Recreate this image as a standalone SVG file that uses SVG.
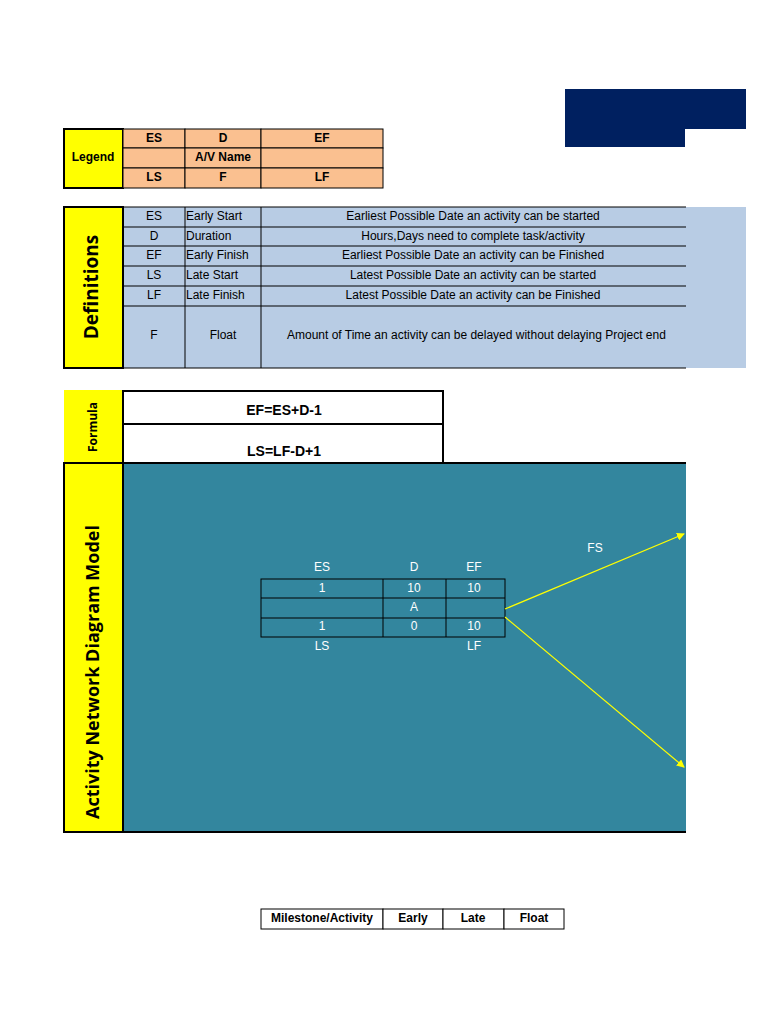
<svg xmlns="http://www.w3.org/2000/svg" width="768" height="1024" viewBox="0 0 768 1024">
<style>
text{font-family:"Liberation Sans Narrow","Liberation Sans",Arial,sans-serif;font-size:12px;text-anchor:middle;dominant-baseline:middle}
.b{font-weight:bold}
.cell{stroke:#000;stroke-width:1}
.side{font-family:"Open Sans","DejaVu Sans",sans-serif;font-weight:bold;font-size:19px}
.f{font-size:14px;font-weight:bold}
</style>
<defs><marker id="ah" markerWidth="8" markerHeight="8" refX="7" refY="4" orient="auto" markerUnits="userSpaceOnUse"><path d="M0,0L8,4L0,8z" fill="#ffff00"/></marker></defs>
<rect width="768" height="1024" fill="#fff"/>
<g id="navy"><rect x="565" y="89" width="181" height="40" fill="#002060"/><rect x="565" y="128" width="120" height="19" fill="#002060"/></g>
<g id="legend">
<rect x="64" y="129" width="59" height="59" fill="#ffff00" stroke="#000" stroke-width="2"/>
<text x="93" y="158" class="b">Legend</text>
<g fill="#fac090" class="cell">
<rect x="123" y="129" width="62" height="19"/><rect x="185" y="129" width="76" height="19"/><rect x="261" y="129" width="122" height="19"/>
<rect x="123" y="148" width="62" height="20"/><rect x="185" y="148" width="76" height="20"/><rect x="261" y="148" width="122" height="20"/>
<rect x="123" y="168" width="62" height="20"/><rect x="185" y="168" width="76" height="20"/><rect x="261" y="168" width="122" height="20"/>
</g>
<text x="154" y="139" class="b">ES</text><text x="223" y="139" class="b">D</text><text x="322" y="139" class="b">EF</text>
<text x="223" y="158" class="b">A/V Name</text>
<text x="154" y="178" class="b">LS</text><text x="223" y="178" class="b">F</text><text x="322" y="178" class="b">LF</text>
</g>
<g id="definitions">
<rect x="123" y="207" width="623" height="161" fill="#b8cce4"/>
<rect x="64" y="207" width="59" height="161" fill="#ffff00" stroke="#000" stroke-width="2"/>
<text class="side" transform="translate(93,287) rotate(-90)">Definitions</text>
<g stroke="#000" fill="none">
<path d="M123,207H686M123,227H686M123,246H686M123,266H686M123,286H686M123,306H686M123,368H686"/>
<path d="M185,207V368M261,207V368"/>
<path d="M123,207V368" stroke-width="2"/>
</g>
<text x="154" y="217">ES</text><text x="186" y="217" style="text-anchor:start">Early Start</text><text x="473" y="217">Earliest Possible Date an activity can be started</text>
<text x="154" y="237">D</text><text x="186" y="237" style="text-anchor:start">Duration</text><text x="473" y="237">Hours,Days need to complete task/activity</text>
<text x="154" y="256">EF</text><text x="186" y="256" style="text-anchor:start">Early Finish</text><text x="473" y="256">Earliest Possible Date an activity can be Finished</text>
<text x="154" y="276">LS</text><text x="186" y="276" style="text-anchor:start">Late Start</text><text x="473" y="276">Latest Possible Date an activity can be started</text>
<text x="154" y="296">LF</text><text x="186" y="296" style="text-anchor:start">Late Finish</text><text x="473" y="296">Latest Possible Date an activity can be Finished</text>
<text x="154" y="336">F</text><text x="223" y="336">Float</text><text x="287" y="336" style="text-anchor:start">Amount of Time an activity can be delayed without delaying Project end</text>
</g>
<g id="formula">
<rect x="64" y="390" width="59" height="73" fill="#ffff00"/>
<text class="side" transform="translate(94,427) rotate(-90)" style="font-size:12px">Formula</text>
<rect x="123" y="391" width="320" height="33" fill="#fff" stroke="#000" stroke-width="2"/>
<rect x="123" y="424" width="320" height="39" fill="#fff" stroke="#000" stroke-width="2"/>
<text x="284" y="411" class="f">EF=ES+D-1</text>
<text x="284" y="452" class="f">LS=LF-D+1</text>
</g>
<g id="activity">
<rect x="123" y="463" width="563" height="369" fill="#33869e"/>
<path d="M123,463H686" stroke="#000" stroke-width="2"/>
<path d="M64,832H686" stroke="#000" stroke-width="2"/>
<rect x="64" y="463" width="59" height="369" fill="#ffff00" stroke="#000" stroke-width="2"/>
<text class="side" transform="translate(94,672) rotate(-90)" style="font-size:18px">Activity Network Diagram Model</text>
</g>
<g id="node-A" fill="#fff">
<g fill="none" stroke="#000"><rect x="261" y="579" width="244" height="58"/><path d="M261,598H505M261,618H505M383,579V637M446,579V637"/></g>
<text x="322" y="568">ES</text><text x="414" y="568">D</text><text x="474" y="568">EF</text>
<text x="322" y="589">1</text><text x="414" y="589">10</text><text x="474" y="589">10</text>
<text x="414" y="608">A</text>
<text x="322" y="627">1</text><text x="414" y="627">0</text><text x="474" y="627">10</text>
<text x="322" y="647">LS</text><text x="474" y="647">LF</text>
</g>
<g id="connectors" stroke="#ffff00" stroke-width="1.2" fill="none">
<path d="M505,609L684,534" marker-end="url(#ah)"/>
<path d="M505,617L684,767" marker-end="url(#ah)"/>
</g>
<text x="595" y="549" fill="#fff">FS</text>
<g id="summary">
<g fill="#fff" stroke="#000"><rect x="261" y="909" width="122" height="20"/><rect x="383" y="909" width="60" height="20"/><rect x="443" y="909" width="61" height="20"/><rect x="504" y="909" width="60" height="20"/></g>
<text x="322" y="919" style="font-family:'Liberation Sans',Arial,sans-serif;font-weight:bold">Milestone/Activity</text><text x="413" y="919" class="b">Early</text><text x="473" y="919" class="b">Late</text><text x="534" y="919" class="b">Float</text>
</g>
</svg>
